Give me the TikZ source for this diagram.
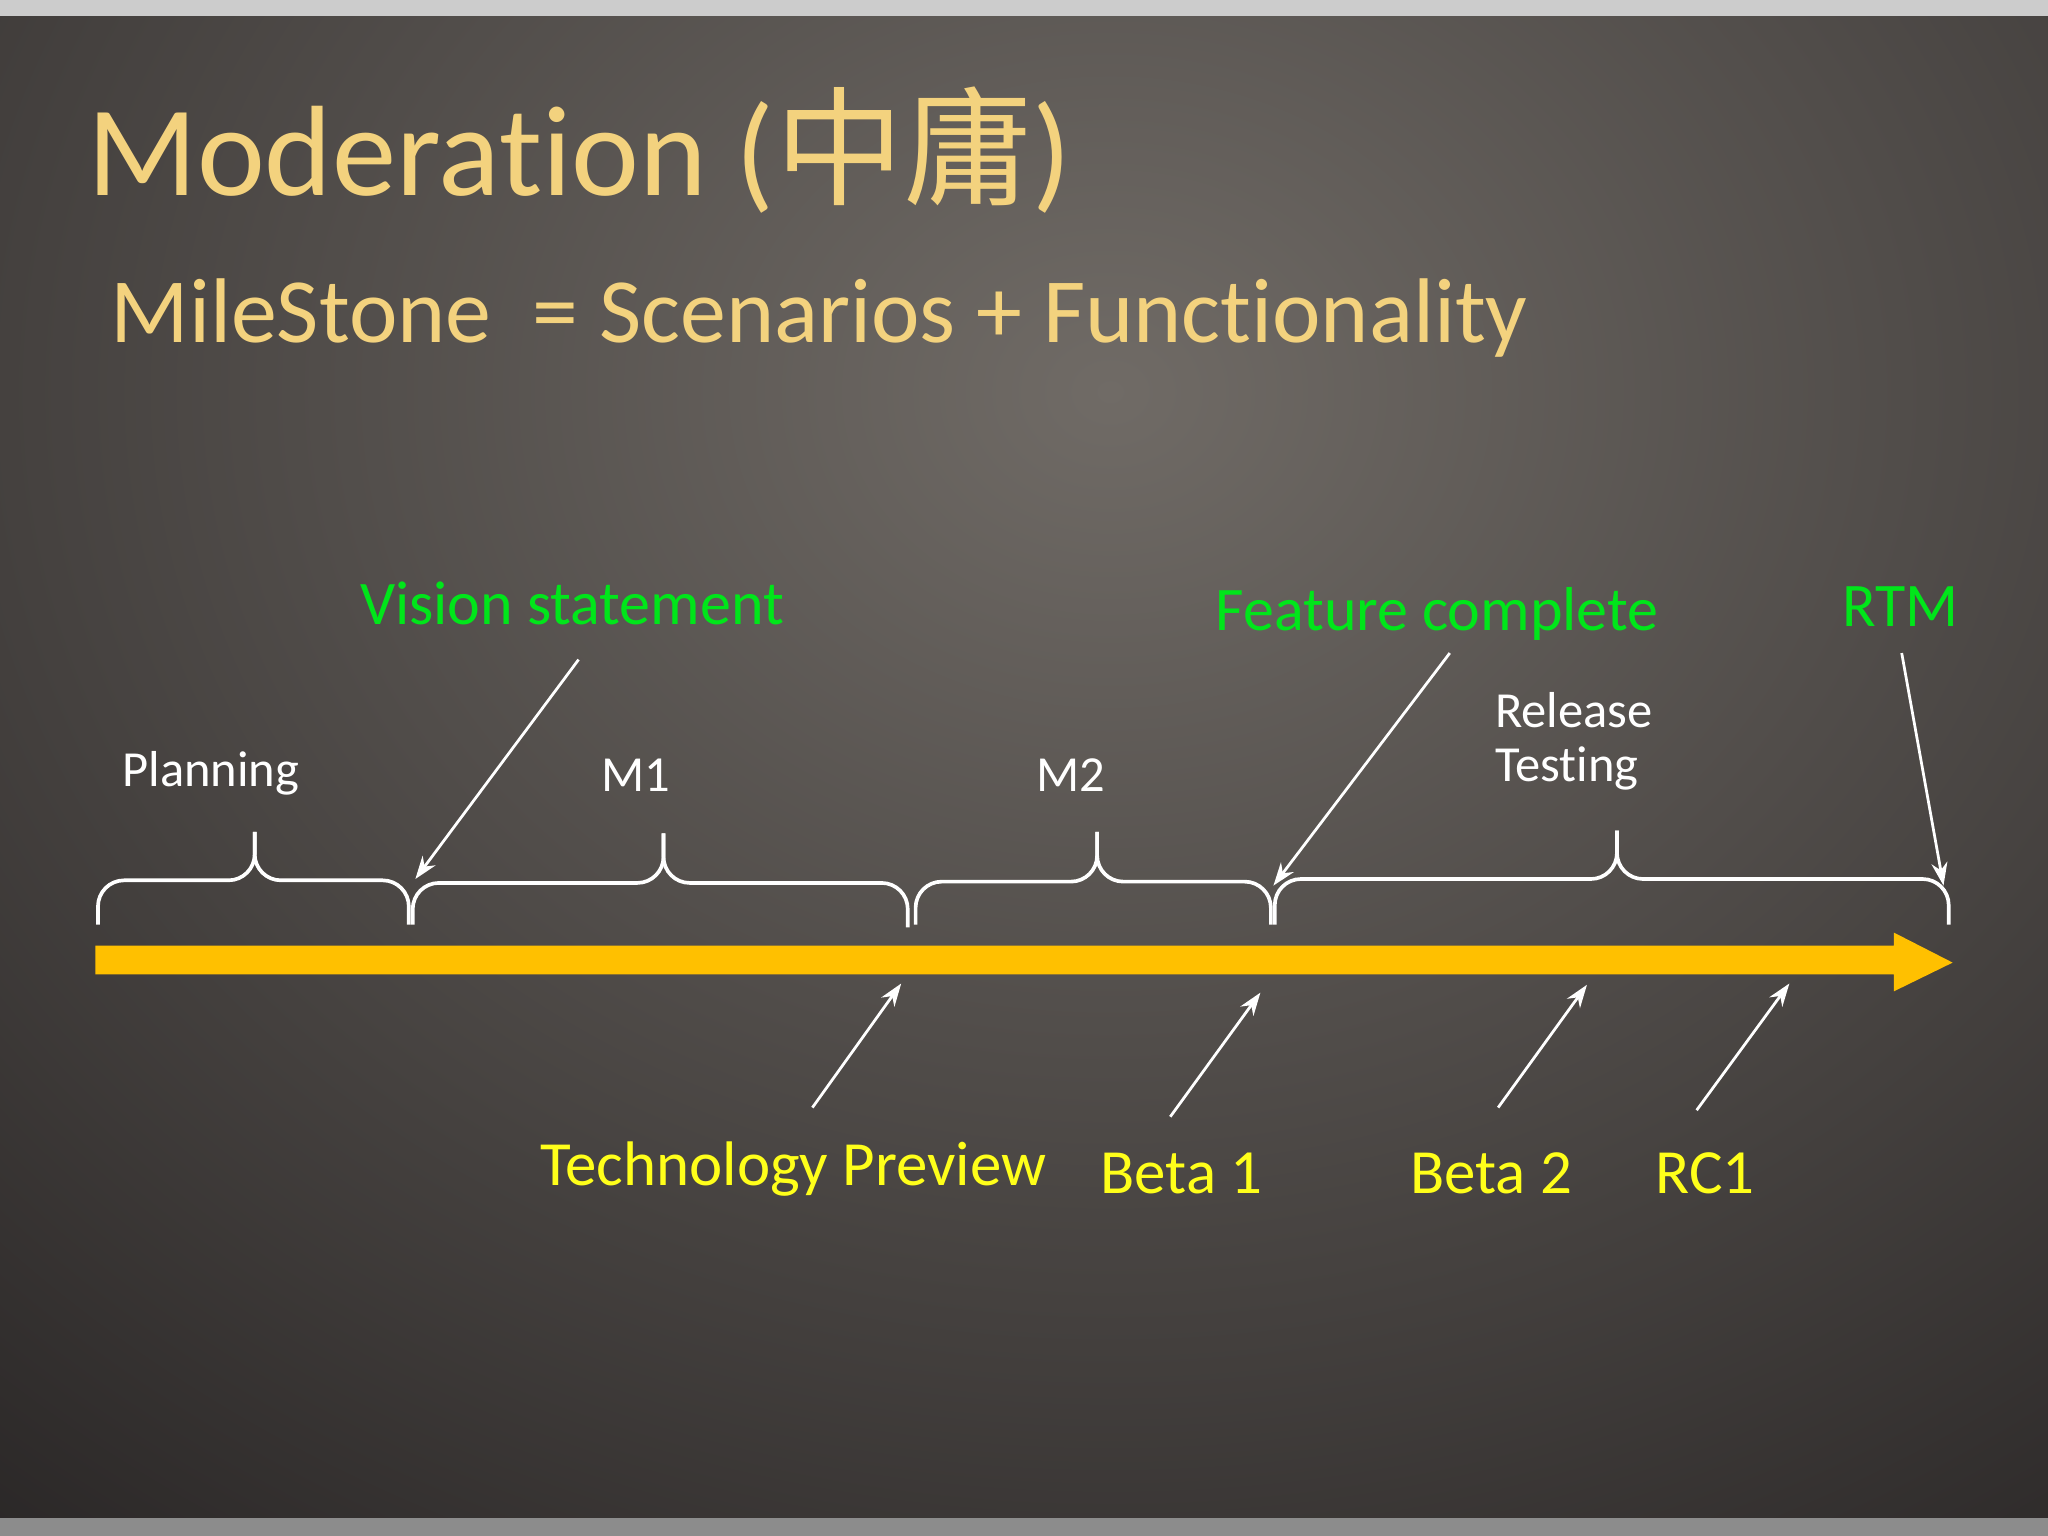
\documentclass[tikz,border=0pt]{standalone}
\usepackage{fontspec}
\setmainfont[Ligatures=NoCommon]{Carlito}
\newfontfamily\cjk{Noto Sans CJK TC}
\usetikzlibrary{arrows.meta}
\definecolor{gold}{HTML}{F3D27E}
\definecolor{grn}{HTML}{00E61A}
\definecolor{yel}{HTML}{FFFF1A}
\definecolor{org}{HTML}{FFC000}
\begin{document}
\begin{tikzpicture}[x=0.01cm,y=-0.01cm,
  lbl/.style={anchor=base west,inner sep=0pt,font=\fontsize{11}{11.7}\selectfont,text=white},
  grl/.style={anchor=base west,inner sep=0pt,font=\fontsize{13.5}{16}\selectfont,text=grn},
  yll/.style={anchor=base west,inner sep=0pt,font=\fontsize{13.7}{16}\selectfont,text=yel},
  brc/.style={draw=white,line width=0.8pt,rounded corners=0.2cm},
  thin/.style={draw=white,line width=0.6pt,-{Stealth[length=5pt,width=3.5pt]}}]
\useasboundingbox (0,0) rectangle (1568,1176);
\shade[inner color={rgb,255:red,112;green,107;blue,102},outer color={rgb,255:red,38;green,35;blue,35}] (-600,-900) rectangle (2300,1500);
\fill[black!20] (0,0) rectangle (1568,12);
\fill[black!45] (0,1162) rectangle (1568,1176);
\node[anchor=base west,inner sep=0pt,text=gold,font=\fontsize{28}{32}\selectfont] (title) at (66,150) {Moderation ({\cjk 中庸})};
\node[anchor=base west,inner sep=0pt,text=gold,font=\fontsize{20}{24}\selectfont] (sub) at (84,262) {MileStone~ = Scenarios + Functionality};
\node[grl] (vis) at (275,478) {Vision statement};
\node[grl] (fc) at (930,483) {Feature complete};
\node[grl] (rtm) at (1410,480) {RTM};
\node[lbl] (pl) at (93,602) {Planning};
\node[lbl] (m1) at (460,606) {M1};
\node[lbl] (m2) at (793,606) {M2};
\node[lbl,align=left] (rt) at (1144,598) {Release\\Testing};
\node[yll] (tp) at (413,908) {Technology Preview};
\node[yll] (b1) at (842,914) {Beta 1};
\node[yll] (b2) at (1079,914) {Beta 2};
\node[yll] (rc) at (1267,914) {RC1};
\fill[org] (73,724) -- (1450,724) -- (1450,714) -- (1495,737) -- (1450,759) -- (1450,746) -- (73,746) -- cycle;
% braces
\draw[brc] (75,708) -- (75,674) -- (195,674) -- (195,637);
\draw[brc] (195,637) -- (195,674) -- (313,674) -- (313,708);
\draw[brc] (316,708) -- (316,676) -- (508,676) -- (508,638);
\draw[brc] (508,638) -- (508,676) -- (695,676) -- (695,710);
\draw[brc] (701,708) -- (701,675) -- (840,675) -- (840,637);
\draw[brc] (840,637) -- (840,675) -- (973,675) -- (973,708);
\draw[brc] (976,708) -- (976,673) -- (1238,673) -- (1238,636);
\draw[brc] (1238,636) -- (1238,673) -- (1492,673) -- (1492,708);
\coordinate (vs) at (443,505); \coordinate (ve) at (318,673);
\coordinate (fs) at (1110,500); \coordinate (fe) at (975,678);
\coordinate (rs) at (1456,500); \coordinate (re) at (1488,678);
\coordinate (ts) at (622,848); \coordinate (te) at (690,753);
\coordinate (bs) at (896,855); \coordinate (be) at (965,760);
\coordinate (cs) at (1147,848); \coordinate (ce) at (1215,754);
\coordinate (ds) at (1299,850); \coordinate (de) at (1370,753);
\draw[thin] (vs) -- (ve);
\draw[thin] (fs) -- (fe);
\draw[thin] (rs) -- (re);
\draw[thin] (ts) -- (te);
\draw[thin] (bs) -- (be);
\draw[thin] (cs) -- (ce);
\draw[thin] (ds) -- (de);
\end{tikzpicture}
\end{document}
